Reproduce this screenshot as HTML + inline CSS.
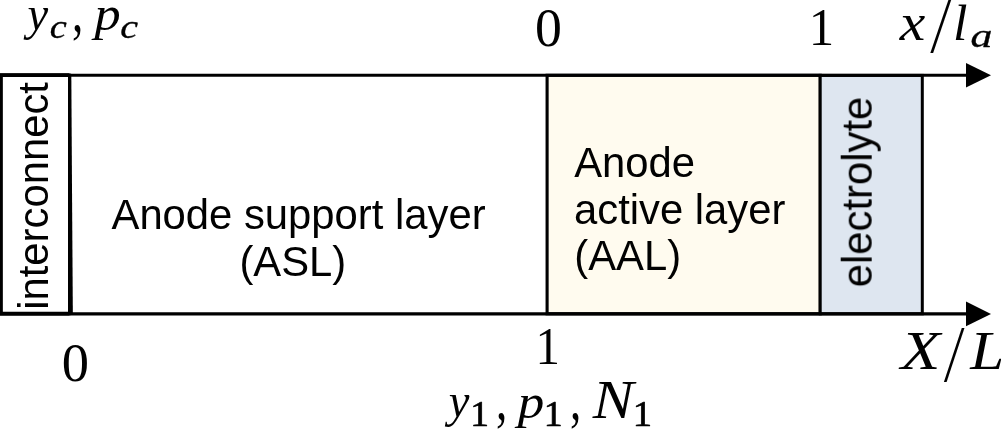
<!DOCTYPE html>
<html>
<head>
<meta charset="utf-8">
<title>Anode layers diagram</title>
<style>
  html, body { margin: 0; padding: 0; background: #ffffff; }
  body { width: 1001px; height: 429px; overflow: hidden; }
  svg { display: block; will-change: transform; }
  .sans { font-family: "Liberation Sans", Arial, Helvetica, sans-serif; font-size: 41.8px; fill: #000; }
  .rm { font-family: "Liberation Serif", "Times New Roman", serif; fill: #000; }
  .sub { stroke: #000; stroke-width: 0.7px; stroke-linejoin: round; }
  .subi { stroke: #000; stroke-width: 0.35px; stroke-linejoin: round; }
  .it { font-family: "Liberation Serif", "Times New Roman", serif; font-style: italic; fill: #000; }
</style>
</head>
<body>
<svg width="1001" height="429" viewBox="0 0 1001 429">
  <rect id="bg" x="0" y="0" width="1001" height="429" fill="#ffffff"/>
  <!-- filled layers -->
  <rect id="r_aal" x="547.1" y="75.3" width="273.1" height="238.5" fill="#fffbef" stroke="#000" stroke-width="3.1"/>
  <rect id="r_ely" x="820.2" y="75.4" width="102.1" height="238.4" fill="#dee6f0" stroke="#000" stroke-width="3"/>
  <!-- interconnect box -->
  <rect id="r_int" x="1.3" y="75.2" width="68.25" height="238.4" fill="none" stroke="#000" stroke-width="3.1"/>
  <line id="ax_top_l" x1="0" y1="75.2" x2="69.5" y2="75.2" stroke="#000" stroke-width="3.8"/>
  <line id="ax_bot_l" x1="0" y1="313.6" x2="69.5" y2="313.6" stroke="#000" stroke-width="3.8"/>
  <line id="v1b" x1="69.7" y1="75" x2="71.3" y2="314" stroke="#000" stroke-width="3.1"/>
  <!-- axes -->
  <line id="ax_top" x1="0" y1="75.2" x2="970" y2="75.2" stroke="#000" stroke-width="3.1"/>
  <line id="ax_bot" x1="0" y1="313.85" x2="970" y2="313.85" stroke="#000" stroke-width="3.4"/>
  <polygon id="ah_top" points="966,63 991,75.3 966,87.6" fill="#000"/>
  <polygon id="ah_bot" points="966,301.6 991,313.9 966,326.2" fill="#000"/>

  <g id="labels" opacity="0.999">
  <!-- layer labels -->
  <text class="sans" id="t_int" transform="translate(47.65,309.8) rotate(-90)">interconnect</text>
  <text class="sans" id="t_ely" transform="translate(871.7,287.3) rotate(-90)">electrolyte</text>
  <text class="sans" id="t_asl1" x="298.55" y="229.1" text-anchor="middle">Anode support layer</text>
  <text class="sans" id="t_asl2" x="292.8" y="275.6" text-anchor="middle">(ASL)</text>
  <text class="sans" id="t_aal1" x="574.2" y="177.2">Anode</text>
  <text class="sans" id="t_aal2" x="574" y="224.3">active layer</text>
  <text class="sans" id="t_aal3" x="574.3" y="269.8">(AAL)</text>

  <!-- math labels -->
  <text id="m_yc_y" class="it" font-size="49.37" transform="translate(27.55,30.19) scale(0.9422,1)">y</text>
  <text id="m_yc_c1" class="it subi" font-size="32.71" transform="translate(49.81,38.07) scale(1.1723,1)">c</text>
  <text id="m_yc_cm" class="rm" font-size="60.49" transform="translate(72.08,31.35) scale(0.7445,1)">,</text>
  <text id="m_yc_p" class="it" font-size="49.55" transform="translate(94.44,30.39) scale(1.0557,1)">p</text>
  <text id="m_yc_c2" class="it subi" font-size="33.54" transform="translate(120.26,38.16) scale(1.1951,1)">c</text>
  <text id="m_top0" class="rm" font-size="54.63" transform="translate(535.05,46.35) scale(0.9850,1)">0</text>
  <text id="m_top1" class="rm" font-size="53.54" transform="translate(808.73,44.70) scale(0.9499,1)">1</text>
  <text id="m_x" class="it" font-size="53.34" transform="translate(899.78,39.80) scale(1.0795,1)">x</text>
  <text id="m_sl1" class="it" font-size="79.56" transform="translate(932.66,51.80) scale(0.6663,1)">/</text>
  <text id="m_l" class="it" font-size="51.41" transform="translate(952.90,39.80) scale(1.0148,1)">l</text>
  <text id="m_a" class="it subi" font-size="33.33" transform="translate(970.49,47.17) scale(1.3133,1)">a</text>
  <text id="m_bot0" class="rm" font-size="54.93" transform="translate(61.82,380.65) scale(0.9926,1)">0</text>
  <text id="m_bot1" class="rm" font-size="51.71" transform="translate(535.50,363.70) scale(0.9449,1)">1</text>
  <text id="m_X" class="it" font-size="55.18" transform="translate(900.82,369.40) scale(1.1764,1)">X</text>
  <text id="m_sl2" class="it" font-size="80.01" transform="translate(946.29,381.00) scale(0.6436,1)">/</text>
  <text id="m_L" class="it" font-size="54.56" transform="translate(970.19,369.20) scale(1.1196,1)">L</text>
  <text id="m_y1" class="it" font-size="49.37" transform="translate(448.65,417.49) scale(0.9422,1)">y</text>
  <text id="m_y1s" class="rm sub" font-size="36.81" transform="translate(470.20,426.10) scale(1.0188,1)">1</text>
  <text id="m_c1" class="rm" font-size="60.49" transform="translate(496.08,418.75) scale(0.7445,1)">,</text>
  <text id="m_p1" class="it" font-size="49.47" transform="translate(517.78,417.71) scale(1.0726,1)">p</text>
  <text id="m_p1s" class="rm sub" font-size="36.81" transform="translate(543.68,426.10) scale(1.0266,1)">1</text>
  <text id="m_c2" class="rm" font-size="60.49" transform="translate(569.88,418.75) scale(0.7445,1)">,</text>
  <text id="m_N" class="it" font-size="54.56" transform="translate(592.82,417.90) scale(1.1237,1)">N</text>
  <text id="m_Ns" class="rm sub" font-size="36.81" transform="translate(632.80,426.10) scale(1.0497,1)">1</text>
  </g>
</svg>
</body>
</html>
